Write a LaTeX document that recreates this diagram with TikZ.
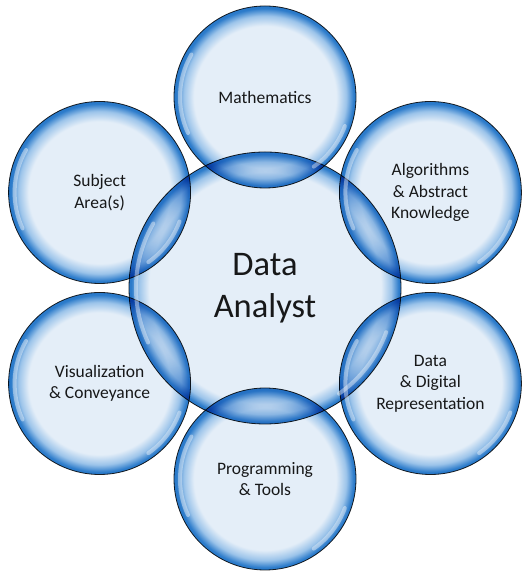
\documentclass[tikz,border=0pt]{standalone}
\usepackage{fontspec}
\setmainfont{Carlito}
\usetikzlibrary{positioning}

\definecolor{bubblein}{HTML}{E4EEF8}
\definecolor{bubblemid}{HTML}{9CC4EA}
\definecolor{bubbleout}{HTML}{2A7ACA}
\definecolor{labeltext}{HTML}{1A1A1A}

% outer bubbles: rim about 15% of the radius
\pgfdeclareradialshading{skillshade}{\pgfpoint{0bp}{0bp}}{%
  color(0bp)=(bubblein); color(19.5bp)=(bubblein); color(22.3bp)=(bubblemid);
  color(24.4bp)=(bubbleout); color(25bp)=(bubbleout); color(50bp)=(bubbleout)}
% centre bubble: thinner rim
\pgfdeclareradialshading{coreshade}{\pgfpoint{0bp}{0bp}}{%
  color(0bp)=(bubblein); color(21.3bp)=(bubblein); color(23.2bp)=(bubblemid);
  color(24.6bp)=(bubbleout); color(25bp)=(bubbleout); color(50bp)=(bubbleout)}

\tikzset{
  bubble/.style={circle, draw=black!85, line width=0.8pt, blend mode=multiply,
    text=labeltext, inner sep=0pt, align=center},
  skill/.style={bubble, shading=skillshade, minimum size=182pt,
    font=\fontsize{17.5}{21.5}\selectfont},
  core/.style={bubble, shading=coreshade, minimum size=272pt,
    font=\fontsize{34.5}{42}\selectfont},
  gleam/.style={white, line width=4pt, opacity=0.4, line cap=round}
}

\begin{document}
\begin{tikzpicture}[x=1pt,y=1pt]
\useasboundingbox (0,0) rectangle (529,572);

\node [core] (analyst) at (265,284) {Data\\Analyst};

\path (analyst.center) ++(90:191) node [skill] (maths) {Mathematics};
\path (analyst.center) ++(30:191) node [skill] (algo) {Algorithms\\\& Abstract\\Knowledge};
\path (analyst.center) ++(-30:191) node [skill] (data) {Data\\\& Digital\\Representation};
\path (analyst.center) ++(-90:191) node [skill] (prog) {Programming\\\& Tools};
\path (analyst.center) ++(-150:191) node [skill] (visual) {Visualization\\\& Conveyance};
\path (analyst.center) ++(150:191) node [skill] (subject) {Subject\\Area(s)};

% glassy highlights inside the rims
\foreach \n/\r in {analyst/129,maths/85,algo/85,data/85,prog/85,visual/85,subject/85} {
  \draw [gleam] (\n.center) ++(150:\r) arc [start angle=150, end angle=205, radius=\r];
  \draw [gleam] (\n.center) ++(-20:\r) arc [start angle=-20, end angle=-55, radius=\r];
}
\end{tikzpicture}
\end{document}
